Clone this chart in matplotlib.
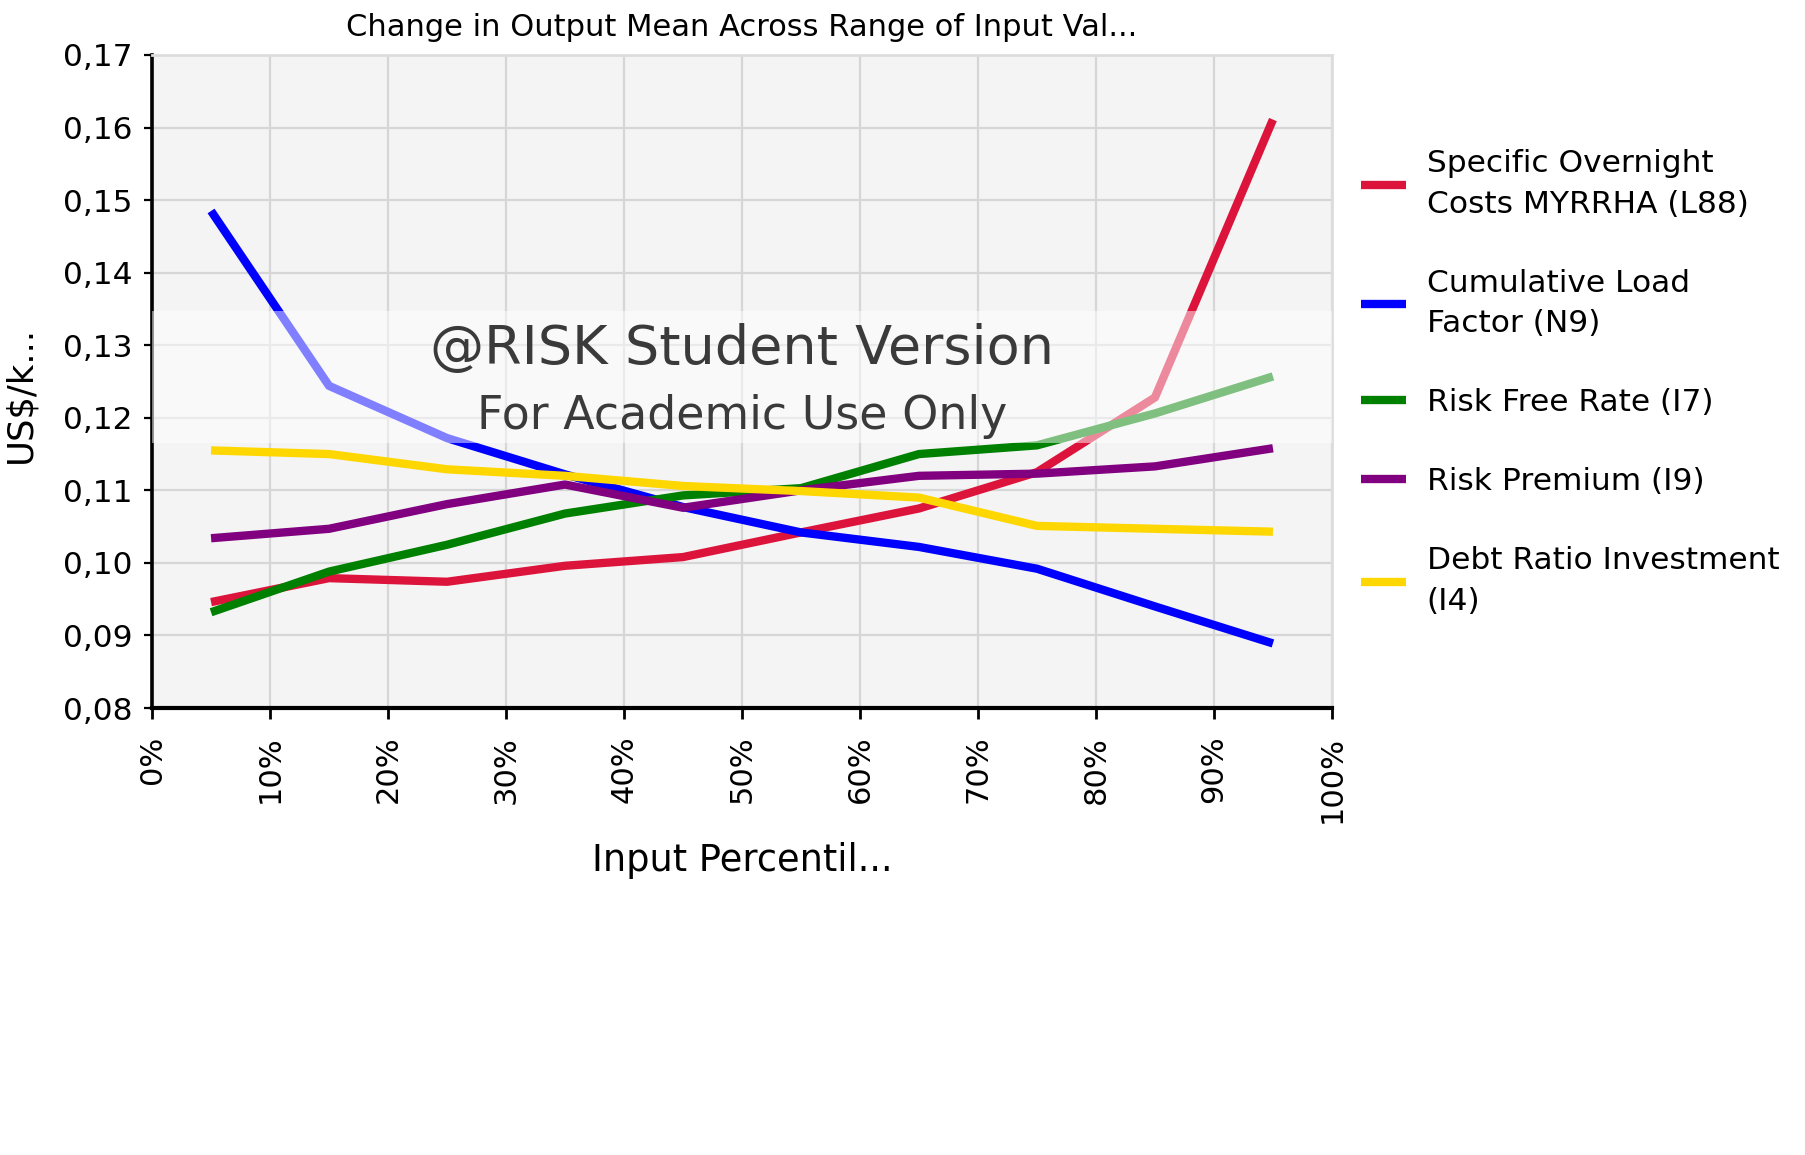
import matplotlib
matplotlib.use("Agg")
import matplotlib.pyplot as plt
from matplotlib.patches import Rectangle
from matplotlib.ticker import FuncFormatter, MultipleLocator

plt.rcParams["font.family"] = ["DejaVu Sans"]

# percentile midpoints (in %)
percentiles = [5, 15, 25, 35, 45, 55, 65, 75, 85, 95]

series_names = [
    "Specific Overnight\nCosts MYRRHA (L88)",
    "Cumulative Load\nFactor (N9)",
    "Risk Free Rate (I7)",
    "Risk Premium (I9)",
    "Debt Ratio Investment\n(I4)",
]
overnight_costs = [0.0946, 0.0979, 0.0974, 0.0996, 0.1008, 0.1042, 0.1075, 0.1125, 0.1228, 0.1611]
load_factor = [0.1485, 0.1244, 0.1172, 0.1122, 0.1077, 0.1042, 0.1022, 0.0992, 0.0940, 0.0889]
risk_free = [0.0932, 0.0988, 0.1025, 0.1068, 0.1093, 0.1103, 0.1150, 0.1162, 0.1206, 0.1257]
risk_premium = [0.1034, 0.1047, 0.1081, 0.1108, 0.1076, 0.1100, 0.1120, 0.1123, 0.1133, 0.1158]
debt_ratio = [0.1155, 0.1150, 0.1129, 0.1120, 0.1106, 0.1099, 0.1090, 0.1051, 0.1047, 0.1043]

colors = ["#DC143C", "#0000FF", "#008000", "#800080", "#FFD700"]

fig = plt.figure(figsize=(18.06, 11.55), dpi=100)
ax = fig.add_axes([0.0842, 0.387, 0.6533, 0.5654])
ax.set_facecolor("#f4f4f4")

for vals, name, c in zip([overnight_costs, load_factor, risk_free, risk_premium, debt_ratio],
                         series_names, colors):
    ax.plot(percentiles, vals, color=c, lw=6, label=name, solid_capstyle="butt", zorder=3)

ax.set_xlim(0, 100)
ax.set_ylim(0.08, 0.17)
ax.xaxis.set_major_locator(MultipleLocator(10))
ax.yaxis.set_major_locator(MultipleLocator(0.01))
ax.xaxis.set_major_formatter(FuncFormatter(lambda v, p: f"{v:.0f}%"))
ax.yaxis.set_major_formatter(FuncFormatter(lambda v, p: f"{v:.2f}".replace(".", ",")))
ax.grid(True, color="#d6d6d6", lw=1.6, zorder=0)
ax.set_axisbelow(True)

for s in ["top", "right"]:
    ax.spines[s].set_color("#dddddd")
    ax.spines[s].set_linewidth(2)
ax.spines["left"].set_linewidth(2.6)
ax.spines["bottom"].set_linewidth(3)
ax.tick_params(axis="y", length=6, width=1.6, labelsize=22.5, pad=8)
ax.tick_params(axis="x", length=8, width=2, labelsize=22, pad=12, labelrotation=90)

ax.set_title("Change in Output Mean Across Range of Input Val...", fontsize=22, pad=14)
ax.set_xlabel("Input Percentil...", fontsize=26.5, labelpad=14)
ax.set_ylabel("US$/k...", fontsize=25.5)
ax.yaxis.set_label_coords(-0.097, 0.48)

# watermark band
ax.add_patch(Rectangle((0, 0.406), 1, 0.202, transform=ax.transAxes,
                       facecolor="white", alpha=0.5, lw=0, zorder=4))
ax.text(0.5, 0.549, "@RISK Student Version", transform=ax.transAxes, ha="center",
        va="center", fontsize=39, color="#3a3a3a", zorder=5)
ax.text(0.5, 0.446, "For Academic Use Only", transform=ax.transAxes, ha="center",
        va="center", fontsize=33, color="#3a3a3a", zorder=5)

leg = fig.legend(loc="upper left", bbox_to_anchor=(0.738, 0.895), frameon=False,
                 fontsize=22.5, handlelength=1.45, handletextpad=0.65, labelspacing=1.6)
for line in leg.get_lines():
    line.set_linewidth(6)
for t in leg.get_texts():
    t.set_linespacing(1.5)

fig.savefig("out.png", dpi=100)
